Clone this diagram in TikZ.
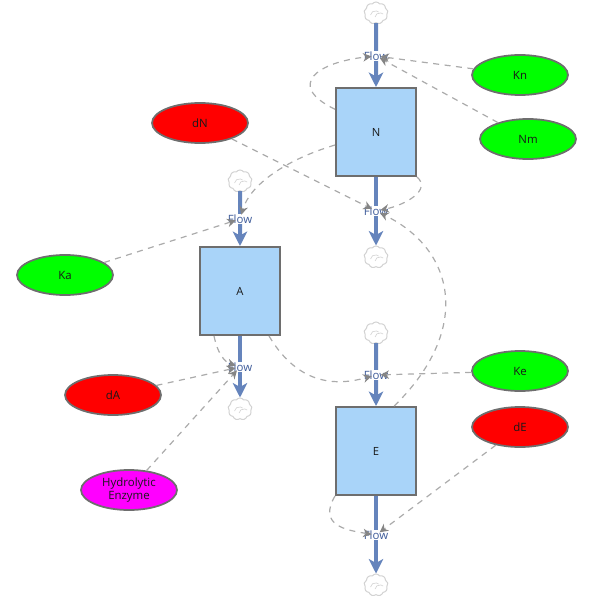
\documentclass[tikz,border=0pt]{standalone}
\usepackage{fontspec}
\setmainfont{Open Sans}
\usetikzlibrary{arrows.meta,shapes.geometric,shapes.symbols}
\definecolor{stockcolor}{HTML}{A9D4F9}
\definecolor{pipecolor}{HTML}{6584BC}
\definecolor{flowtextcolor}{HTML}{3F5C9A}
\definecolor{bordercolor}{HTML}{6E6E6E}
\definecolor{linkcolor}{HTML}{ABABAB}
\definecolor{tipcolor}{HTML}{858585}
\definecolor{cloudcolor}{HTML}{D2D2D2}
\definecolor{enzymecolor}{HTML}{FF00FF}
\tikzset{
  stockbox/.style={
    draw=bordercolor, fill=stockcolor, line width=0.4mm,
    minimum width=16mm, minimum height=17.6mm, inner sep=0,
    font=\fontsize{6.4pt}{7.5pt}\selectfont, text=black!90
  },
  parambase/.style={
    draw=bordercolor, shape=ellipse, line width=0.35mm,
    minimum width=19.2mm, minimum height=8mm, inner sep=0, align=center,
    font=\fontsize{6.5pt}{7.6pt}\selectfont, text=black!90
  },
  paramK/.style={parambase, fill=green},
  paramD/.style={parambase, fill=red},
  paramH/.style={parambase, fill=enzymecolor},
  flowlabel/.style={
    fill=white, inner xsep=0.1mm, inner ysep=0.2mm, text=flowtextcolor,
    font=\fontsize{6.5pt}{7.5pt}\selectfont
  },
  cloudbox/.style={
    draw=cloudcolor, fill=white, shape=cloud, cloud puffs=9, cloud puff arc=110,
    aspect=1.2, minimum width=4.8mm, minimum height=4.4mm, inner sep=0, line width=0.2mm
  },
  pipe/.style={
    draw=pipecolor, line width=0.8mm,
    -{Stealth[length=2.9mm,width=2.9mm,inset=0.8mm]}
  },
  influence/.style={
    draw=linkcolor, line width=0.24mm, dash pattern=on 1.2mm off 1.1mm,
    shorten >=0.9mm,
    -{Stealth[length=1.7mm,width=1.7mm,color=tipcolor]}
  }
}
\newcommand{\FlowCloud}[2]{%
    \node[cloudbox] (#1) at (#2) {};
    \draw[cloudcolor, line width=0.12mm] (#1.center) ++(-1.1mm,-0.4mm) arc[start angle=170, end angle=50, radius=1.0mm];
    \draw[cloudcolor, line width=0.12mm] (#1.center) ++(-0.2mm,-0.8mm) arc[start angle=170, end angle=50, radius=1.0mm];%
}
\begin{document}
\begin{tikzpicture}[x=0.2mm,y=-0.2mm]
    \useasboundingbox (0,0) rectangle (594,600);
    \node[stockbox] (N) at (376,132) {N};
    \node[stockbox] (A) at (240,291) {A};
    \node[stockbox] (E) at (376,451) {E};
    \node[paramK] (Kn) at (520,75) {Kn};
    \node[paramK] (Nm) at (528,139) {Nm};
    \node[paramK] (Ka) at (65,275) {Ka};
    \node[paramK] (Ke) at (520,371) {Ke};
    \node[paramD] (dN) at (200,123) {dN};
    \node[paramD] (dA) at (113,395) {dA};
    \node[paramD] (dE) at (520,427) {dE};
    \node[paramH] (Hyd) at (129,490) {Hydrolytic\\Enzyme};
    \FlowCloud{cloudNin}{376,13}
    \FlowCloud{cloudNout}{376,257}
    \FlowCloud{cloudAin}{240,181}
    \FlowCloud{cloudAout}{240,409}
    \FlowCloud{cloudEin}{376,333}
    \FlowCloud{cloudEout}{376,585}
    \draw[pipe] (cloudNin) -- (N);
    \draw[pipe] (N) -- (cloudNout);
    \draw[pipe] (cloudAin) -- (A);
    \draw[pipe] (A) -- (cloudAout);
    \draw[pipe] (cloudEin) -- (E);
    \draw[pipe] (E) -- (cloudEout);
    \node[flowlabel] (flowNin) at (376,56) {Flow};
    \node[flowlabel] (flowNout) at (376,211) {Flow};
    \node[flowlabel] (flowAin) at (240,219) {Flow};
    \node[flowlabel] (flowAout) at (240,367) {Flow};
    \node[flowlabel] (flowEin) at (376,375) {Flow};
    \node[flowlabel] (flowEout) at (376,535) {Flow};
    \draw[influence] (Kn) -- (flowNin.center);
    \draw[influence] (Nm) -- (flowNin.center);
    \draw[influence] (dN) -- (flowNout.center);
    \draw[influence] (Ka) -- (flowAin.center);
    \draw[influence] (dA) -- (flowAout.center);
    \draw[influence] (Hyd) -- (flowAout.center);
    \draw[influence] (Ke) -- (flowEin.center);
    \draw[influence] (dE) -- (flowEout.center);
    \draw[influence] (N.151) .. controls (285,85) and (318,62) .. (flowNin.center);
    \draw[influence] (N.west |- 0,145) .. controls (285,160) and (250,185) .. (flowAin.center);
    \draw[influence] (N.south east) .. controls (432,190) and (405,205) .. (flowNout.center);
    \draw[influence] (E.68) .. controls (472,330) and (456,250) .. (flowNout.center);
    \draw[influence] (A.south west) ++(15,0) .. controls (218,355) and (225,362) .. (flowAout.center);
    \draw[influence] (A.south east) ++(-12,0) .. controls (300,388) and (340,385) .. (flowEin.center);
    \draw[influence] (E.south west) .. controls (318,525) and (345,530) .. (flowEout.center);
\end{tikzpicture}
\end{document}
